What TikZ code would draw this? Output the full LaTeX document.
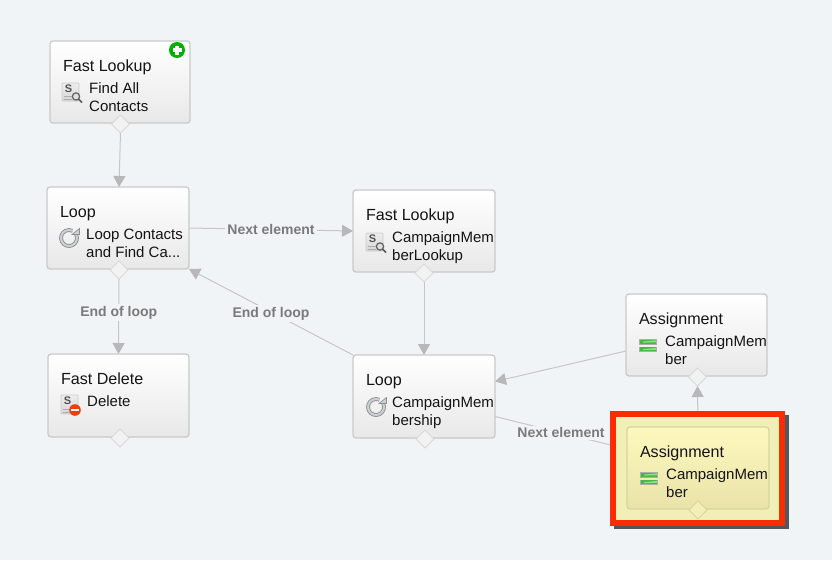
\documentclass[tikz,border=0pt]{standalone}
\usepackage{fontspec}
\setmainfont{Liberation Sans}
\usetikzlibrary{shapes.geometric,arrows.meta,calc}
\definecolor{pagebg}{HTML}{F0F4F7}
\definecolor{boxline}{HTML}{C9C9C9}
\definecolor{linegray}{HTML}{C6C6C6}
\definecolor{tipgray}{HTML}{B8B8B8}
\definecolor{labelgray}{HTML}{7A7A7A}
\definecolor{redframe}{HTML}{FB2C00}
\definecolor{frameshadow}{HTML}{51595E}
\definecolor{tintcol}{HTML}{F3EC89}
\definecolor{inktext}{HTML}{141414}
\definecolor{yellowtop}{HTML}{FDF8BE}
\definecolor{yellowbot}{HTML}{E9E3A9}
\definecolor{yellowline}{HTML}{D8D4A0}
\definecolor{yellowdiam}{HTML}{F3EFB5}
\definecolor{barleft}{HTML}{45B845}
\definecolor{barright}{HTML}{8FE07F}
\definecolor{delred}{HTML}{E8400F}
\definecolor{ringlight}{HTML}{CDD1D4}
\definecolor{ringdark}{HTML}{8C9194}
\pgfdeclarelayer{pagelayer}
\pgfdeclarelayer{lineslayer}
\pgfdeclarelayer{tintlayer}
\pgfsetlayers{pagelayer,lineslayer,tintlayer,main}
\tikzset{
  boxlook/.style={draw=boxline,top color=white,bottom color=black!9},
  diamondlook/.style={draw=black!15,fill=black!5},
  flowbox/.style={rectangle,rounded corners=3pt,line width=1.3pt,inner sep=0pt,outer sep=0pt},
  flowdiamond/.style={diamond,aspect=1,inner sep=0pt,outer sep=0pt,minimum width=18pt,minimum height=18pt,line width=1pt},
  titletext/.style={anchor=base west,inner sep=0pt,text=inktext,font=\fontsize{16.1}{18}\selectfont},
  subtext/.style={anchor=base west,inner sep=0pt,text=inktext,font=\fontsize{15}{17}\selectfont},
  conn/.style={draw=linegray,line width=1pt,-{Triangle[length=11pt,width=12pt,color=tipgray]}},
  edgelabel/.style={fill=pagebg,inner sep=2pt,text=labelgray,font=\fontsize{14}{16}\selectfont\bfseries},
  lookupicon/.pic={
    \shade[top color=black!7,bottom color=black!16,draw=black!20,line width=.8pt,rounded corners=1pt] (0,1) rectangle (17,19);
    \foreach \yy in {14,17}{\draw[black!32,line width=1pt] (2,\yy) -- (10,\yy);}
    \node[inner sep=0pt,text=black!68,font=\fontsize{11}{11}\selectfont\bfseries] (sglyph) at (6.5,7) {S};
    \draw[black!60,line width=1.3pt,fill=black!12] (14,14.5) circle[radius=3.6pt];
    \draw[black!65,line width=1.7pt] (16.5,17) -- (20,20.5);
  },
  deleteicon/.pic={
    \shade[top color=black!7,bottom color=black!16,draw=black!20,line width=.8pt,rounded corners=1pt] (0,0) rectangle (17,19);
    \foreach \yy in {14,17}{\draw[black!32,line width=1pt] (2,\yy) -- (10,\yy);}
    \node[inner sep=0pt,text=black!68,font=\fontsize{11}{11}\selectfont\bfseries] (dglyph) at (6.5,6) {S};
    \fill[delred] (14,15) circle[radius=5.8pt];
    \fill[white] (10.2,13.9) rectangle (17.8,16.1);
  },
  refreshicon/.pic={
    \draw[ringdark,line width=3.8pt] (7.2,-3.5) arc[start angle=26,end angle=-295,radius=8pt];
    \draw[ringlight,line width=2pt] (7.2,-3.5) arc[start angle=26,end angle=-295,radius=8pt];
    \fill[ringlight,draw=ringdark,line width=.7pt] (3,-3.5) -- (10.5,-3.5) -- (10.5,-9.5) -- cycle;
  },
  assignicon/.pic={
    \fill[black!32] (0,0) rectangle (18,5.6);
    \fill[black!32] (0,7.6) rectangle (18,13.2);
    \fill[barleft] (.8,.8) rectangle (17.2,4.8);
    \fill[barleft] (.8,8.4) rectangle (17.2,12.4);
    \fill[barright] (4,2.6) -- (17.2,1.3) -- (17.2,3.2) -- (4,3.6) -- cycle;
    \fill[barright] (4,10.2) -- (17.2,8.9) -- (17.2,10.8) -- (4,11.2) -- cycle;
  },
  plusicon/.pic={
    \fill[green!70!black] (0,0) circle[radius=8pt];
    \fill[white] (-4.5,-1.6) rectangle (4.5,1.6);
    \fill[white] (-1.6,-4.5) rectangle (1.6,4.5);
  }
}
% name, left, top, right, bottom, diamond x, title, line 1, line 2
\newcommand{\flowelement}[9]{%
  \pgfmathsetmacro{\boxw}{#4-#2}%
  \pgfmathsetmacro{\boxh}{#5-#3}%
  \node[flowbox,boxlook,minimum width=\boxw pt,minimum height=\boxh pt] (#1) at ({(#2+#4)/2},{(#3+#5)/2}) {};
  \node[flowdiamond,diamondlook] (#1d) at (#6,{#5+1}) {};
  \node[titletext] (#1t) at ({#2+12.8},{#3+30}) {#7};
  \node[subtext] (#1a) at ({#2+39},{#3+52.5}) {#8};
  \if\relax\detokenize{#9}\relax\else
  \node[subtext] (#1b) at ({#2+39},{#3+70.5}) {#9};
  \fi
}
\begin{document}
\begin{tikzpicture}[x=1pt,y=-1pt]
\useasboundingbox (0,0) rectangle (832,560);
\begin{pgfonlayer}{pagelayer}
  \fill[pagebg] (0,0) rectangle (832,560);
\end{pgfonlayer}

\flowelement{fa}{50}{41}{190}{123}{120.5}{Fast Lookup}{Find All}{Contacts}
\flowelement{lc}{47}{187}{189}{269}{119}{Loop}{Loop Contacts}{and Find Ca...}
\flowelement{fd}{48}{354}{189}{437}{120}{Fast Delete}{Delete}{}
\flowelement{fc}{353}{190}{495}{272}{424}{Fast Lookup}{CampaignMem}{berLookup}
\flowelement{lm}{353}{355}{495}{438}{425}{Loop}{CampaignMem}{bership}
\flowelement{as}{626}{294}{767}{376}{697.5}{Assignment}{CampaignMem}{ber}
\begin{scope}[boxlook/.style={draw=yellowline,top color=yellowtop,bottom color=yellowbot},
              diamondlook/.style={draw=yellowline,fill=yellowdiam}]
\flowelement{ay}{627}{427}{769}{509}{698}{Assignment}{CampaignMem}{ber}
\end{scope}

\pic at (177,50) {plusicon};
\pic at (62,82) {lookupicon};
\pic at (69,238) {refreshicon};
\pic at (61,395) {deleteicon};
\pic at (366,232) {lookupicon};
\pic at (376,407) {refreshicon};
\pic at (639,339) {assignicon};
\pic at (640,472) {assignicon};

\begin{pgfonlayer}{lineslayer}
  \draw[conn] (fad.south) -- ([xshift=1pt]lc.north);
  \draw[conn] (lc.east) -- node[edgelabel] (n1) {Next element} (fc.west);
  \draw[conn] (lcd.south) -- node[edgelabel,pos=.45] (n2) {End of loop} (fd.north);
  \draw[conn] (lm.north west) -- node[edgelabel,yshift=-1.5pt] (n3) {End of loop} (lc.south east);
  \draw[conn] (fcd.south) -- (lm.north);
  \draw[conn] ([yshift=-16pt]as.west) -- ([yshift=15pt]lm.east);
  \draw[conn] ([yshift=-20pt]lm.east) -- node[edgelabel] (n4) {Next element} ([yshift=19pt]ay.west);
  \draw[conn] (ay.north) -- (asd.south);
\end{pgfonlayer}
\begin{pgfonlayer}{tintlayer}
  \fill[frameshadow] (614,415) rectangle (788.5,529);
  \fill[pagebg] (613,414) rectangle (782,523);
  \fill[tintcol,fill opacity=.6] (613,414) rectangle (782,523);
  \draw[redframe,line width=5.5pt] (613,414) rectangle (782,523);
\end{pgfonlayer}
\end{tikzpicture}
\end{document}
